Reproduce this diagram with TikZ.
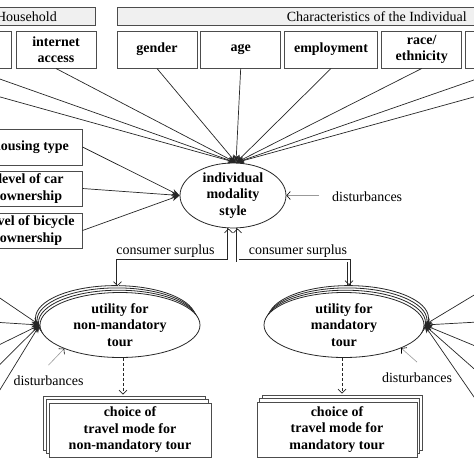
\documentclass[tikz,border=0pt]{standalone}
\usepackage{fontspec}
\setmainfont{Liberation Serif}
\usetikzlibrary{shapes.geometric,arrows.meta,calc}
\newcommand\myfs{\fontsize{14}{16.5}\selectfont}
\begin{document}
\begin{tikzpicture}[x=1pt,y=-1pt,
  bx/.style={draw=black!70, line width=1pt, fill=white, font=\myfs\bfseries, align=center, inner sep=0pt, minimum height=37pt},
  hdr/.style={draw=black!70, line width=1pt, fill=black!6, inner sep=0pt, minimum height=18pt},
  ell/.style={ellipse, draw=black!85, line width=0.8pt, fill=white, font=\myfs\bfseries, align=center, inner sep=0pt, minimum height=65pt},
  ellcopy/.style={draw=black!85, line width=0.8pt, fill=white},
  boxcopy/.style={draw=black!70, line width=1pt, fill=white},
  lbl/.style={font=\myfs, inner sep=0pt},
  conn/.style={draw=black!85, line width=0.7pt, -{Stealth[length=8pt,width=6pt]}},
  dbl/.style={draw=black!85, line width=0.6pt, double=white, double distance=2pt},
  tipv/.style={draw=black!85, line width=0.7pt, -{Straight Barb[length=4pt,width=8pt]}},
  dist/.style={draw=black!40, line width=0.6pt, -{Straight Barb[length=3.5pt,width=8pt,color=black]}},
  dsh/.style={draw=black!85, line width=0.7pt, dash pattern=on 3pt off 2pt, -{Straight Barb[length=4pt,width=8pt]}}
]
\useasboundingbox (0,0) rectangle (474,474);
\clip (0,0) rectangle (474,474);

% headers
\node[hdr, minimum width=200pt, anchor=north east] (hh) at (96,7) {};
\node[lbl, anchor=base east] (hht) at (57,21) {Household};
\node[hdr, minimum width=440pt, anchor=north west] (hi) at (117,7) {};
\node[lbl, anchor=base east] (hit) at (467,21) {Characteristics of the Individual};

% top row of boxes
\node[bx, minimum width=80pt, anchor=north east] (b1) at (12,31) {};
\node[bx, minimum width=80pt] (ia) at (56,49.5) {internet\\access};
\node[bx, minimum width=80pt] (gen) at (157,49.5) {gender};
\node[bx, minimum width=80pt] (age) at (240.7,49.5) {age};
\node[bx, minimum width=92.6pt] (emp) at (331,49.5) {employment};
\node[bx, minimum width=80pt] (race) at (421.7,49.5) {race/\\ethnicity};
\node[bx, minimum width=80pt, anchor=north west] (b7) at (465,31) {};

% left boxes
\node[bx, minimum width=102pt, minimum height=36pt] (ht) at (31,147) {housing type};
\node[bx, minimum width=102pt, minimum height=35pt] (car) at (31,188.5) {level of car\\ownership};
\node[bx, minimum width=102pt, minimum height=35pt] (bic) at (31,230.5) {level of bicycle\\ownership};

% central ellipse
\node[ell, minimum width=106pt] (ims) at (233,195.5) {individual\\modality\\style};

% utility ellipses (stacked)
\foreach \k in {3,2,1}
  \draw[ellcopy] (120-1.5*\k,325-2.3*\k) ellipse [x radius=80pt, y radius=32.5pt];
\node[ell, minimum width=160pt] (unm) at (120,325) {utility for\\non-mandatory\\tour};
\foreach \k in {3,2,1}
  \draw[ellcopy] (344+1.5*\k,325-2.3*\k) ellipse [x radius=80pt, y radius=32.5pt];
\node[ell, minimum width=160pt] (um) at (344,325) {utility for\\mandatory\\tour};

% choice boxes (stacked)
\foreach \k in {2,1}
  \draw[boxcopy] (49-3*\k,403-3.5*\k) rectangle (211-3*\k,457-3.5*\k);
\node[bx, minimum width=162pt, minimum height=54pt] (cnm) at (130,430) {choice of\\travel mode for\\non-mandatory tour};
\foreach \k in {2,1}
  \draw[boxcopy] (257+2.5*\k,402-3.5*\k) rectangle (417+2.5*\k,457-3.5*\k);
\node[bx, minimum width=160pt, minimum height=55pt] (cm) at (337,429.5) {choice of\\travel mode for\\mandatory tour};

% labels
\node[lbl, anchor=base] (cs1) at (165.5,254) {consumer surplus};
\node[lbl, anchor=base] (cs2) at (298,254) {consumer surplus};
\node[lbl, anchor=base west] (d1) at (332,201) {disturbances};
\node[lbl, anchor=base] (d2) at (48.5,385) {disturbances};
\node[lbl, anchor=base] (d3) at (417,382) {disturbances};

% off-frame sources
\coordinate (bL) at (-104,68);
\coordinate (bR) at (579,68);
\coordinate (ctop) at ([xshift=3pt]ims.north);
\coordinate (l1) at (-40,271);
\coordinate (l2) at (-40,320);
\coordinate (l3) at (-40,364);
\coordinate (l4) at (-40,404);
\coordinate (l5) at (-40,455);
\coordinate (r1) at (514,271);
\coordinate (r2) at (514,320);
\coordinate (r3) at (514,362);
\coordinate (r4) at (514,404);
\coordinate (r5) at (514,455);
\coordinate (csy) at (0,260.5);

% connectors into the central ellipse
\foreach \s in {bL,b1.south,ia.south,gen.south,age.south,emp.south,race.south,b7.south,bR}
  \draw[conn] (\s) -- (ctop);
\foreach \s in {ht,car,bic}
  \draw[conn] (\s.east) -- (ims.west);
% connectors into the utility ellipses
\foreach \s in {l1,l2,l3,l4,l5}
  \draw[conn] (\s) -- (unm.west);
\foreach \s in {r1,r2,r3,r4,r5}
  \draw[conn] (\s) -- (um.east);

% consumer surplus double lines
\draw[dbl] ([xshift=-4.5pt]ims.south) -- ([xshift=-4.5pt]ims.south |- csy) -| ([xshift=-2.5pt,yshift=6pt]unm.north);
\draw[dbl] ([xshift=4.5pt]ims.south) -- ([xshift=4.5pt]ims.south |- csy) -| ([xshift=5pt,yshift=7pt]um.north);
\draw[tipv] ([xshift=-4.5pt,yshift=-0.5pt]ims.south) -- ([xshift=-4.5pt]ims.south);
\draw[tipv] ([xshift=4.5pt,yshift=-0.5pt]ims.south) -- ([xshift=4.5pt]ims.south);
\draw[tipv] ([xshift=-2.5pt,yshift=6.5pt]unm.north) -- ([xshift=-2.5pt,yshift=6pt]unm.north);
\draw[tipv] ([xshift=5pt,yshift=7.5pt]um.north) -- ([xshift=5pt,yshift=7pt]um.north);

% disturbances
\draw[dist] ([xshift=-13pt]d1.west |- ims.east) -- (ims.east);
\draw[dist] ([yshift=10pt]d2.north) -- (unm.203);
\draw[dist] ([yshift=10pt]d3.north) -- (um.-22);

% dashed arrows to choices
\draw[dsh] ([xshift=3pt]unm.south) -- ([xshift=3pt,yshift=8pt]unm.south |- cnm.north);
\draw[dsh] ([xshift=-2pt]um.south) -- ([xshift=-2pt,yshift=8pt]um.south |- cm.north);
\end{tikzpicture}
\end{document}
